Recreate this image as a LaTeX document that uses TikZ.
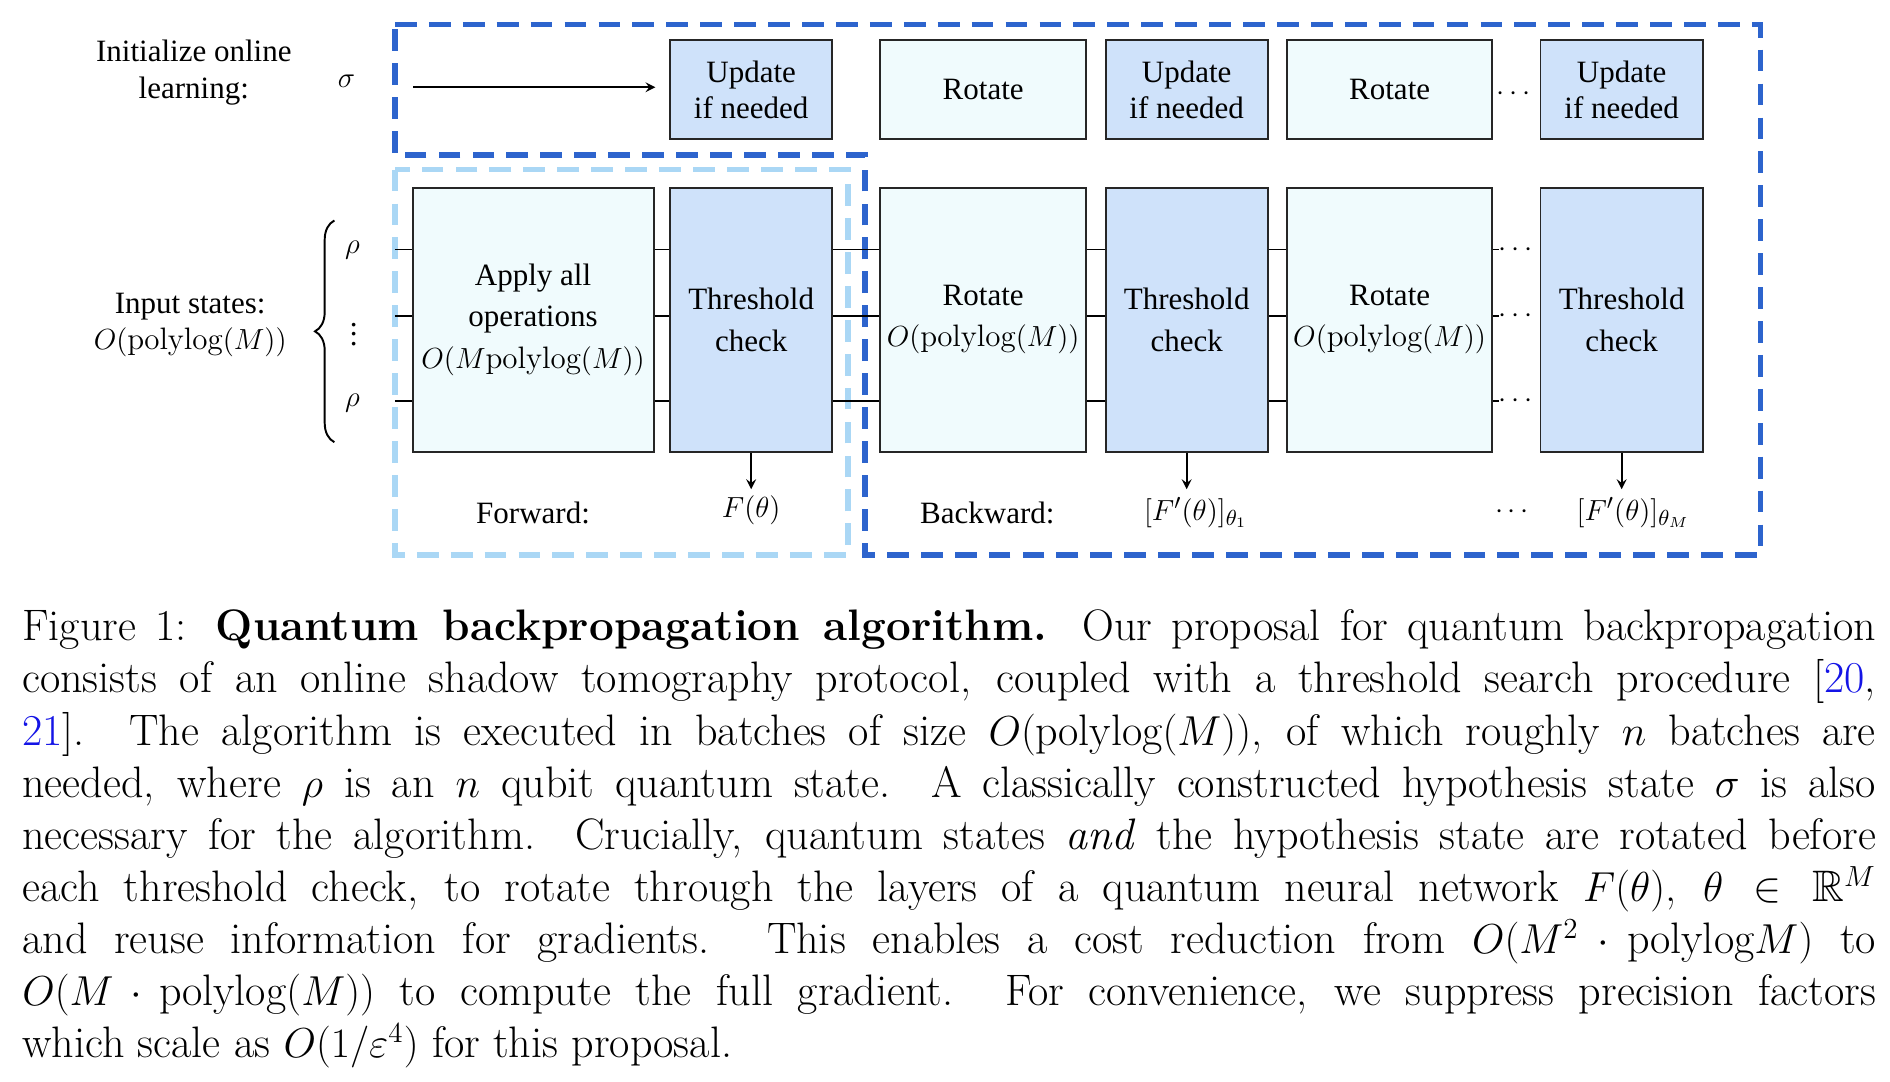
\documentclass[tikz,border=0pt]{standalone}
\usepackage{fontspec}
\usepackage{amsmath,amssymb}
\usetikzlibrary{decorations.pathreplacing}
\newfontfamily\tms{Liberation Serif}
\definecolor{dk}{RGB}{45,100,205}
\definecolor{lt}{RGB}{170,215,245}
\definecolor{fl}{RGB}{240,251,253}
\definecolor{fd}{RGB}{207,226,250}
\definecolor{cite}{RGB}{20,20,230}
\begin{document}
\begin{tikzpicture}[x=0.5pt,y=-0.5pt,
  every node/.style={font=\tms\fontsize{12.8}{15}\selectfont},
  box/.style={draw=black!85,line width=0.8pt,align=center,inner sep=0pt,minimum height=41pt},
  tall/.style={box,minimum height=109pt},
  L/.style={fill=fl},D/.style={fill=fd},
  wire/.style={line width=0.7pt},
  arr/.style={-stealth,line width=0.8pt}]
\useasboundingbox (0,0) rectangle (1560,893);
% dashed frames
\draw[lt,line width=2.2pt,dash pattern=on 9pt off 5pt] (326,140) rectangle (700,458);
\draw[dk,line width=2.2pt,dash pattern=on 9pt off 5pt] (326,20) -- (1453,20) -- (1453,458) -- (714,458) -- (714,128) -- (326,128) -- cycle;
% top row
\node[box,D,minimum width=67pt] (u1) at (620,74) {Update\\if needed};
\node[box,L,minimum width=85pt] (r1) at (811.5,74) {Rotate};
\node[box,D,minimum width=67pt] (u2) at (979.5,74) {Update\\if needed};
\node[box,L,minimum width=84.5pt] (r2) at (1147,74) {Rotate};
\node[box,D,minimum width=67pt] (u3) at (1338.5,74) {Update\\if needed};
\node (td) at (1251,78) {$\cdots$};
% bottom row
\node[tall,L,minimum width=99.5pt] (ap) at (440,264) {Apply all\\[2pt]operations\\[2pt]$O(M\mathrm{polylog}(M))$};
\node[tall,D,minimum width=67pt] (t1) at (620,264) {Threshold\\[2pt]check};
\node[tall,L,minimum width=85pt] (b1) at (811.5,264) {Rotate\\[2pt]$O(\mathrm{polylog}(M))$};
\node[tall,D,minimum width=67pt] (t2) at (979.5,264) {Threshold\\[2pt]check};
\node[tall,L,minimum width=84.5pt] (b2) at (1147,264) {Rotate\\[2pt]$O(\mathrm{polylog}(M))$};
\node[tall,D,minimum width=67pt] (t3) at (1338.5,264) {Threshold\\[2pt]check};
% wires
\foreach \y in {206,261,331}{
  \coordinate (w\y) at (326,\y);
  \draw[wire] (w\y) -- (ap.west |- w\y);
  \draw[wire] (ap.east |- w\y) -- (t1.west |- w\y);
  \draw[wire] (t1.east |- w\y) -- (b1.west |- w\y);
  \draw[wire] (b1.east |- w\y) -- (t2.west |- w\y);
  \draw[wire] (t2.east |- w\y) -- (b2.west |- w\y);
  \draw[wire] (b2.east |- w\y) -- ++(5,0);
  \node at (1253,\y) {$\cdots$};
}
% left labels
\node[align=center] (init) at (160,60) {Initialize online\\learning:};
\node (sg) at (286,67) {$\sigma$};
\coordinate (as) at (341,72);
\draw[arr] (as) -- (541,72);
\node[align=center] (inp) at (157,268) {Input states:\\$O(\mathrm{polylog}(M))$};
\draw[line width=0.8pt,decorate,decoration={brace,amplitude=8pt}] (276,365) -- (276,182);
\node (p1) at (291,206) {$\rho$};
\node[inner sep=0pt] (pd) at (292,270) {$\vdots$};
\node (p2) at (291,333) {$\rho$};
% outputs
\node (f0) at (620,421) {$F(\theta)$};
\node (f1) at (987,423) {$[F'(\theta)]_{\theta_1}$};
\node (fm) at (1348,423) {$[F'(\theta)]_{\theta_M}$};
\draw[arr] (t1.south) -- ++(0,30);
\draw[arr] (t2.south) -- ++(0,30);
\draw[arr] (t3.south) -- ++(0,30);
\node (fw) at (440,423) {Forward:};
\node (bw) at (815,423) {Backward:};
\node (bd) at (1250,423) {$\cdots$};
% caption
\node[anchor=north west,inner sep=0pt,text width=765pt,align=justify,font=\fontsize{18.2}{21.5}\selectfont] (cap) at (18,503) {%
Figure 1: \textbf{Quantum backpropagation algorithm.} Our proposal for quantum backpropagation\linebreak
consists of an online shadow tomography protocol, coupled with a threshold search procedure [{\color{cite}20},\linebreak
{\color{cite}21}]. The algorithm is executed in batches of size $O(\mathrm{polylog}(M))$, of which roughly $n$ batches are\linebreak
needed, where $\rho$ is an $n$ qubit quantum state. A classically constructed hypothesis state $\sigma$ is also\linebreak
necessary for the algorithm. Crucially, quantum states \emph{and} the hypothesis state are rotated before\linebreak
each threshold check, to rotate through the layers of a quantum neural network $F(\theta)$, $\theta\in\mathbb{R}^M$\linebreak
and reuse information for gradients. This enables a cost reduction from $O(M^2\cdot\mathrm{polylog}M)$ to\linebreak
$O(M\cdot\mathrm{polylog}(M))$ to compute the full gradient. For convenience, we suppress precision factors\linebreak
which scale as $O(1/\varepsilon^4)$ for this proposal.};
\end{tikzpicture}
\end{document}
